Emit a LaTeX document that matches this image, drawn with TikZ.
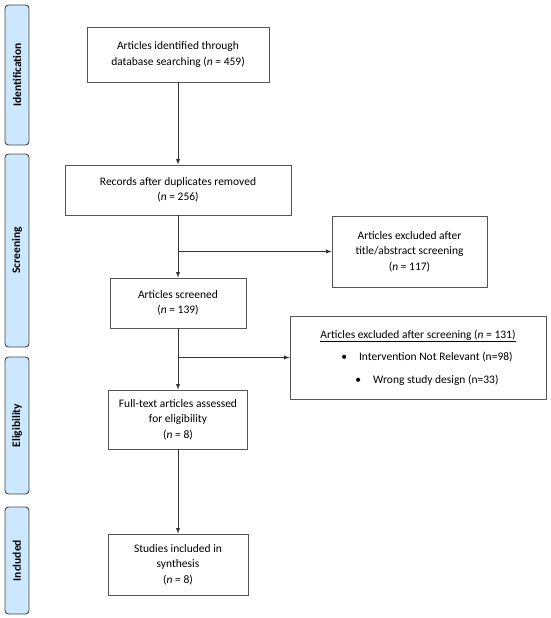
\documentclass[tikz,border=0pt]{standalone}
\usepackage{fontspec}
\setmainfont{Carlito}
\definecolor{stagefill}{RGB}{204,232,255}
\definecolor{stageline}{RGB}{70,70,70}
\definecolor{boxline}{RGB}{85,85,85}

\begin{document}
\begin{tikzpicture}[x=1pt,y=-1pt,
  flowbox/.style={draw=boxline,line width=0.9pt,align=center,inner sep=2pt,
    font=\fontsize{11.5}{15.5}\selectfont},
  stage/.style={draw=stageline,fill=stagefill,line width=0.9pt,rounded corners=3.5pt,
    minimum height=24pt,inner sep=0pt,rotate=90,font=\bfseries\fontsize{11.5}{13}\selectfont},
  flow/.style={-latex,line width=0.9pt,draw=black!80}]
  \useasboundingbox (0,0) rectangle (550,618);

  % stages down the left side
  \node[stage,minimum width=140pt] (idn) at (17,75) {Identification};
  \node[stage,minimum width=193pt] (scr) at (17,250.5) {Screening};
  \node[stage,minimum width=137pt] (elg) at (17,425.5) {Eligibility};
  \node[stage,minimum width=107pt] (inc) at (17,560.5) {Included};

  % main column
  \node[flowbox,minimum width=182pt,minimum height=55pt] (found) at (178,54.5)
    {Articles identified through\\database searching (\textit{n} = 459)};
  \node[flowbox,minimum width=226pt,minimum height=50pt] (dedup) at (178,190)
    {Records after duplicates removed\\(\textit{n} = 256)};
  \node[flowbox,minimum width=136pt,minimum height=50pt] (screened) at (178,303)
    {Articles screened\\(\textit{n} = 139)};
  \node[flowbox,minimum width=139pt,minimum height=59pt] (fulltext) at (178,419.5)
    {Full-text articles assessed\\for eligibility\\(\textit{n} = 8)};
  \node[flowbox,minimum width=140pt,minimum height=61pt] (synth) at (178,564.5)
    {Studies included in\\synthesis\\(\textit{n} = 8)};

  % exclusions on the right
  \node[flowbox,minimum width=155pt,minimum height=71pt] (excla) at (409.5,251.5)
    {Articles excluded after\\title/abstract screening\\(\textit{n} = 117)};
  \node[flowbox,minimum width=256pt,minimum height=83pt] (exclb) at (418,357.5)
    {\underline{Articles excluded after screening (\textit{n} = 131)}\\[7pt]
     \hspace*{18pt}\textbullet\hspace{12pt}Intervention Not Relevant (n=98)\\[7pt]
     \hspace*{18pt}\textbullet\hspace{12pt}Wrong study design (n=33)};

  \draw[flow] (found) -- (dedup);
  \draw[flow] (dedup) -- (screened);
  \draw[flow] (screened) -- (fulltext);
  \draw[flow] (fulltext) -- (synth);
  \draw[flow] (dedup.south |- excla.west) -- (excla.west);
  \draw[flow] (screened.south |- exclb.west) -- (exclb.west);
\end{tikzpicture}
\end{document}
